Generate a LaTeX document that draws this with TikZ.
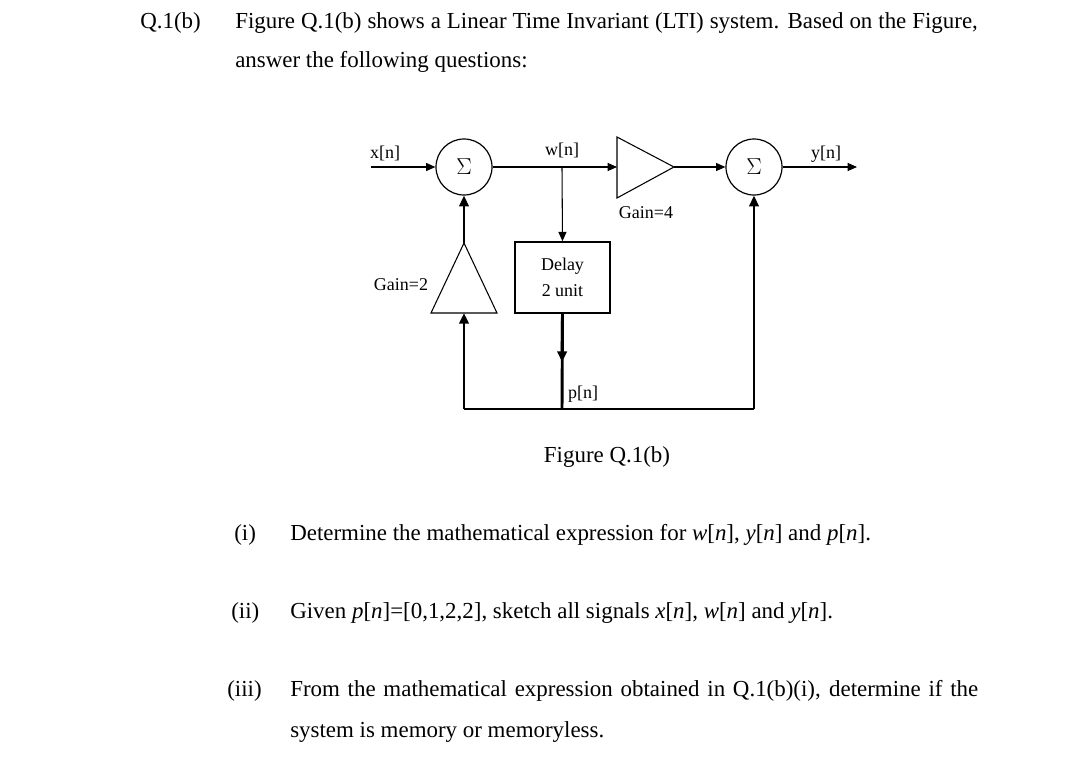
\documentclass[tikz,border=0pt]{standalone}
\usepackage{fontspec}
\setmainfont{Liberation Serif}
\usetikzlibrary{arrows.meta}
\begin{document}
\begin{tikzpicture}[x=0.75pt,y=-0.75pt,
  txt/.style={anchor=base west,inner sep=0pt,font=\fontsize{17.2}{20}\selectfont},
  lbl/.style={inner sep=0pt,font=\fontsize{13.5}{15}\selectfont},
  sumc/.style={draw,circle,line width=0.9pt,minimum size=42pt,inner sep=0pt,font=\fontsize{18}{18}\selectfont},
  thin/.style={line width=0.8pt,-{Triangle[length=7pt,width=6pt]}},
  thick/.style={line width=2.2pt}]
\useasboundingbox (0,0) rectangle (1083,757);
\node[txt] (q) at (140,28) {Q.1(b)};
\node[txt] (l1) at (235,28) {\makebox[557pt][s]{Figure Q.1(b) shows a Linear Time Invariant (LTI) system. Based on the Figure,}};
\node[txt] (l2) at (235,67) {answer the following questions:};
% diagram
\node[sumc] (s1) at (464,167) {$\Sigma$};
\node[sumc] (s2) at (754,167) {$\Sigma$};
\coordinate (xin) at (371,167);
\coordinate (yout) at (857,167);
\coordinate (br) at (562,167);
\draw[line width=0.8pt] (617,137) -- (674,167) -- (617,198) -- cycle;
\coordinate (g4in) at (617,167);
\coordinate (g4out) at (674,167);
\draw[line width=0.8pt] (464,243) -- (497,313) -- (431,313) -- cycle;
\coordinate (g2top) at (464,243);
\coordinate (g2bot) at (464,313);
\node[draw,line width=1.4pt,minimum width=71pt,minimum height=53pt,inner sep=0pt,align=center,lbl] (d) at (562.5,277.5) {Delay\\[4pt]2 unit};
\coordinate (bl) at (464,409);
\coordinate (bm) at (562,409);
\coordinate (brr) at (754,409);
\draw[thin] (xin) -- (s1);
\draw[line width=0.8pt] (s1) -- (br);
\draw[thin] (br) -- (g4in);
\draw[thin] (br) -- (d.north);
\draw[thin] (g4out) -- (s2);
\draw[thin] (s2) -- (yout);
\draw[thick] (d.south) -- (bm);
\draw[thick,-{Triangle[length=8pt,width=7pt]}] (d.south) -- (562,362);
\draw[thick] (bm) -- (bl);
\draw[thick,-{Triangle[length=8pt,width=7pt]}] (bl) -- (g2bot);
\draw[line width=1.2pt] (bm) -- (brr);
\draw[thick,-{Triangle[length=8pt,width=7pt]}] (brr) -- (s2.south);
\draw[thick,-{Triangle[length=8pt,width=7pt]}] (g2top) -- (s1.south);
\node[lbl] (lx) at (385,153) {x[n]};
\node[lbl] (lw) at (562,150) {w[n]};
\node[lbl] (ly) at (826,154) {y[n]};
\node[lbl] (l4) at (646,213) {Gain=4};
\node[lbl] (l2g) at (401,285) {Gain=2};
\node[lbl] (lp) at (583,394) {p[n]};
\node[txt,anchor=base] (cap) at (607,462) {Figure Q.1(b)};
% questions
\node[txt] (i) at (234,540) {(i)};
\node[txt] (it) at (290,540) {Determine the mathematical expression for \textit{w}[\textit{n}], \textit{y}[\textit{n}] and \textit{p}[\textit{n}].};
\node[txt] (ii) at (231,618) {(ii)};
\node[txt] (iit) at (290,618) {Given \textit{p}[\textit{n}]=[0,1,2,2], sketch all signals \textit{x}[\textit{n}], \textit{w}[\textit{n}] and \textit{y}[\textit{n}].};
\node[txt] (iii) at (227,696) {(iii)};
\node[txt] (iiit) at (290,696) {\makebox[516pt][s]{From the mathematical expression obtained in Q.1(b)(i), determine if the}};
\node[txt] (iiit2) at (290,737) {system is memory or memoryless.};
\end{tikzpicture}
\end{document}
